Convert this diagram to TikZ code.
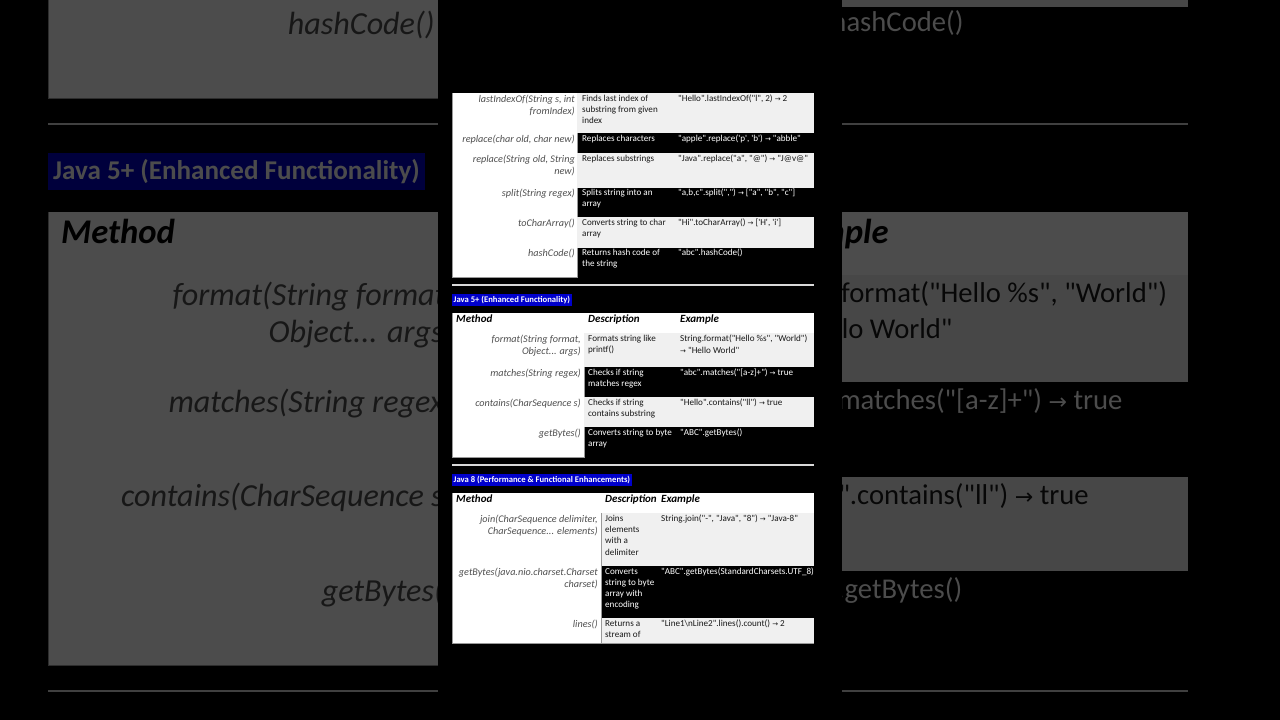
\documentclass[tikz,border=0pt]{standalone}
\usepackage{fontspec}
\newfontfamily\cf{Carlito}
\newfontfamily\djf{DejaVu Sans}
\newcommand\arr{{\djf\fontsize{7}{11}\selectfont →}}
\definecolor{lightrow}{HTML}{F0F0F0}
\definecolor{mgray}{HTML}{505050}
\definecolor{ttlblue}{HTML}{0000CC}
\tikzset{
  x=1pt,y=-1pt,
  base/.style={inner sep=0pt,font=\cf\fontsize{9.1}{11.2}\selectfont},
  meth/.style={base,anchor=north east,align=right,text=mgray,font=\cf\itshape\fontsize{10.2}{11.8}\selectfont},
  txt/.style={base,anchor=north west,align=left,text=black!90},
  wtxt/.style={base,anchor=north west,align=left,text=white},
  hdr/.style={inner sep=0pt,anchor=north west,font=\cf\bfseries\itshape\fontsize{11}{12}\selectfont},
  ttl/.style={anchor=north west,inner xsep=1.5pt,inner ysep=2pt,fill=ttlblue,text=white,font=\cf\bfseries\fontsize{8.6}{9}\selectfont},
  sep/.style={draw=black!15,line width=2pt},
}
\newcommand\content{%
  % table 1
  \fill[white] (452,93) rectangle (577,277);
  \draw[black!40,line width=0.4pt] (452,93) -- (452,277) -- (577,277) -- (577,93);
  \fill[lightrow] (577,93) rectangle (814,133);
  \fill[lightrow] (577,153) rectangle (814,188);
  \fill[lightrow] (577,217) rectangle (814,248);
  \node[meth] (m1) at (575,95) {lastIndexOf(String s, int\\fromIndex)};
  \node[meth] (m2) at (575,135) {replace(char old, char new)};
  \node[meth] (m3) at (575,155) {replace(String old, String\\new)};
  \node[meth] (m4) at (575,189) {split(String regex)};
  \node[meth] (m5) at (575,219) {toCharArray()};
  \node[meth] (m6) at (575,249) {hashCode()};
  \node[txt] (d1) at (582,95) {Finds last index of\\substring from given\\index};
  \node[wtxt] (d2) at (582,135) {Replaces characters};
  \node[txt] (d3) at (582,155) {Replaces substrings};
  \node[wtxt] (d4) at (582,189) {Splits string into an\\array};
  \node[txt] (d5) at (582,219) {Converts string to char\\array};
  \node[wtxt] (d6) at (582,249) {Returns hash code of\\the string};
  \node[txt] (e1) at (678,95) {"Hello".lastIndexOf("l", 2) \arr{} 2};
  \node[wtxt] (e2) at (678,135) {"apple".replace('p', 'b') \arr{} "abble"};
  \node[txt] (e3) at (678,155) {"Java".replace("a", "@") \arr{} "J@v@"};
  \node[wtxt] (e4) at (678,189) {"a,b,c".split(",") \arr{} ["a", "b", "c"]};
  \node[txt] (e5) at (678,219) {"Hi".toCharArray() \arr{} ['H', 'i']};
  \node[wtxt] (e6) at (678,249) {"abc".hashCode()};
  \draw[sep] (452,285) -- (814,285);
  % table 2
  \node[ttl] (t2) at (452,294) {Java 5+ (Enhanced Functionality)};
  \fill[white] (452,313) rectangle (814,333);
  \draw[black!40,line width=0.4pt] (452,333) -- (814,333);
  \fill[white] (452,333) rectangle (584,457);
  \draw[black!40,line width=0.4pt] (452,313) -- (452,457) -- (584,457) -- (584,333);
  \fill[lightrow] (584,333) rectangle (814,367);
  \fill[lightrow] (584,397) rectangle (814,427);
  \node[hdr] (h21) at (456,315) {Method};
  \node[hdr] (h22) at (588,315) {Description};
  \node[hdr] (h23) at (680,315) {Example};
  \node[meth] (n1) at (581,335) {format(String format,\\Object... args)};
  \node[meth] (n2) at (581,369) {matches(String regex)};
  \node[meth] (n3) at (581,399) {contains(CharSequence s)};
  \node[meth] (n4) at (581,429) {getBytes()};
  \node[txt] (f1) at (588,335) {Formats string like\\printf()};
  \node[wtxt] (f2) at (588,369) {Checks if string\\matches regex};
  \node[txt] (f3) at (588,399) {Checks if string\\contains substring};
  \node[wtxt] (f4) at (588,429) {Converts string to byte\\array};
  \node[txt] (g1) at (680,335) {String.format("Hello \%s", "World")\\\arr{} "Hello World"};
  \node[wtxt] (g2) at (680,369) {"abc".matches("[a-z]+") \arr{} true};
  \node[txt] (g3) at (680,399) {"Hello".contains("ll") \arr{} true};
  \node[wtxt] (g4) at (680,429) {"ABC".getBytes()};
  \draw[sep] (452,465) -- (814,465);
  % table 3
  \node[ttl] (t3) at (452,474) {Java 8 (Performance \& Functional Enhancements)};
  \fill[white] (452,493) rectangle (814,513);
  \draw[black!40,line width=0.4pt] (452,513) -- (814,513);
  \fill[white] (452,513) rectangle (601,643);
  \fill[lightrow] (601,513) rectangle (814,566);
  \fill[lightrow] (601,618) rectangle (814,643);
  \draw[black!40,line width=0.4pt] (452,493) -- (452,643) -- (814,643);
  \draw[black!40,line width=0.4pt] (601,513) -- (601,643);
  \node[hdr] (h31) at (456,495) {Method};
  \node[hdr] (h32) at (605,495) {Description};
  \node[hdr] (h33) at (661,495) {Example};
  \node[meth] (p1) at (598,515) {join(CharSequence delimiter,\\CharSequence... elements)};
  \node[meth] (p2) at (598,568) {getBytes(java.nio.charset.Charset\\charset)};
  \node[meth] (p3) at (598,620) {lines()};
  \node[txt] (q1) at (605,515) {Joins\\elements\\with a\\delimiter};
  \node[wtxt] (q2) at (605,568) {Converts\\string to byte\\array with\\encoding};
  \node[txt] (q3) at (605,620) {Returns a\\stream of};
  \node[txt] (r1) at (661,515) {String.join("-", "Java", "8") \arr{} "Java-8"};
  \node[wtxt] (r2) at (661,568) {"ABC".getBytes(StandardCharsets.UTF\_8)};
  \node[txt] (r3) at (661,620) {"Line1\textbackslash nLine2".lines().count() \arr{} 2};
}
\begin{document}
\begin{tikzpicture}
  \useasboundingbox (0,0) rectangle (1280,720);
  \fill[black] (0,0) rectangle (1280,720);
  \begin{scope}
    \clip (0,0) rectangle (1280,720);
    \begin{scope}[shift={(640,360)},scale=3.15,shift={(-640,-360)},transform shape,name prefix=bg-]
      \content
    \end{scope}
    \fill[black,opacity=0.7] (0,0) rectangle (1280,720);
  \end{scope}
  \fill[black] (438,0) rectangle (842,720);
  \content
\end{tikzpicture}
\end{document}
